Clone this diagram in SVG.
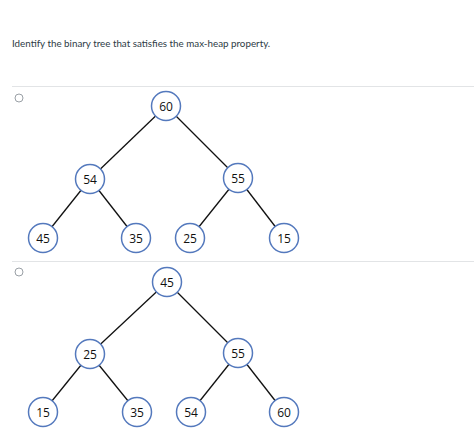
<svg xmlns="http://www.w3.org/2000/svg" width="474" height="436" viewBox="0 0 474 436">
<style>
.title{font-family:Lato,"Liberation Sans",sans-serif;font-size:9.8px;fill:#2d3b45}
.node circle{fill:#fff;stroke:#5479bd;stroke-width:1.5}
.node text{font-family:"Open Sans","Liberation Sans",sans-serif;font-size:12px;fill:#111;text-anchor:middle;dominant-baseline:central}
.edges line{stroke:#111;stroke-width:1.3}
.sep{stroke:#e2e4e6;stroke-width:1}
.radio{fill:#fff;stroke:#9aa0a6;stroke-width:1}
</style>
<rect width="474" height="436" fill="#fff"/>
<text class="title" x="12" y="47">Identify the binary tree that satisfies the max-heap property.</text>
<line class="sep" x1="12" y1="86.5" x2="474" y2="86.5"/>
<line class="sep" x1="12" y1="261.5" x2="474" y2="261.5"/>
<circle class="radio" cx="19" cy="98" r="4"/>
<circle class="radio" cx="19" cy="272" r="4"/>
<g class="edges">
<line x1="166" y1="106" x2="90" y2="179"/>
<line x1="166" y1="106" x2="238" y2="178"/>
<line x1="90" y1="179" x2="43" y2="238"/>
<line x1="90" y1="179" x2="136" y2="238"/>
<line x1="238" y1="178" x2="190" y2="238"/>
<line x1="238" y1="178" x2="284" y2="238"/>
<line x1="167" y1="282" x2="90" y2="354"/>
<line x1="167" y1="282" x2="238" y2="353"/>
<line x1="90" y1="354" x2="43" y2="412"/>
<line x1="90" y1="354" x2="137" y2="412"/>
<line x1="238" y1="353" x2="191" y2="412"/>
<line x1="238" y1="353" x2="284" y2="412"/>
</g>
<g id="t1-60" class="node"><circle cx="166" cy="106" r="14.5"/><text x="166" y="106">60</text></g>
<g id="t1-54" class="node"><circle cx="90" cy="179" r="14.5"/><text x="90" y="179">54</text></g>
<g id="t1-55" class="node"><circle cx="238" cy="178" r="14.5"/><text x="238" y="178">55</text></g>
<g id="t1-45" class="node"><circle cx="43" cy="238" r="14.5"/><text x="43" y="238">45</text></g>
<g id="t1-35" class="node"><circle cx="136" cy="238" r="14.5"/><text x="136" y="238">35</text></g>
<g id="t1-25" class="node"><circle cx="190" cy="238" r="14.5"/><text x="190" y="238">25</text></g>
<g id="t1-15" class="node"><circle cx="284" cy="238" r="14.5"/><text x="284" y="238">15</text></g>
<g id="t2-45" class="node"><circle cx="167" cy="282" r="14.5"/><text x="167" y="282">45</text></g>
<g id="t2-25" class="node"><circle cx="90" cy="354" r="14.5"/><text x="90" y="354">25</text></g>
<g id="t2-55" class="node"><circle cx="238" cy="353" r="14.5"/><text x="238" y="353">55</text></g>
<g id="t2-15" class="node"><circle cx="43" cy="412" r="14.5"/><text x="43" y="412">15</text></g>
<g id="t2-35" class="node"><circle cx="137" cy="412" r="14.5"/><text x="137" y="412">35</text></g>
<g id="t2-54" class="node"><circle cx="191" cy="412" r="14.5"/><text x="191" y="412">54</text></g>
<g id="t2-60" class="node"><circle cx="284" cy="412" r="14.5"/><text x="284" y="412">60</text></g>
</svg>
